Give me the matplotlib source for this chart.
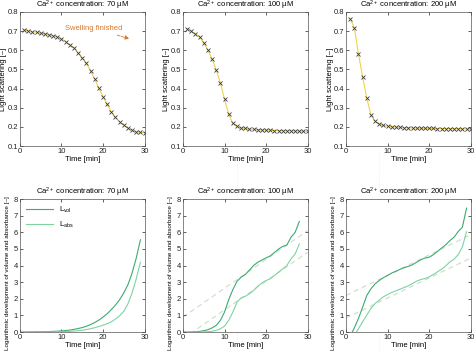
import numpy as np
import matplotlib.pyplot as plt
from matplotlib.lines import Line2D

plt.rcParams['font.family'] = ['Liberation Sans', 'DejaVu Sans']
plt.rcParams['font.size'] = 6
plt.rcParams['mathtext.fontset'] = 'custom'
plt.rcParams['mathtext.rm'] = 'Liberation Sans'
plt.rcParams['mathtext.it'] = 'Liberation Sans'

# light scattering, t = 1..30 min
t_ls = np.arange(1, 31)
ls_70 = [0.706, 0.701, 0.697, 0.694, 0.689, 0.685, 0.682, 0.676, 0.671, 0.660,
         0.645, 0.628, 0.612, 0.587, 0.561, 0.532, 0.492, 0.450, 0.401, 0.358,
         0.317, 0.279, 0.249, 0.225, 0.209, 0.194, 0.182, 0.175, 0.171, 0.170]
ls_100 = [0.713, 0.701, 0.685, 0.668, 0.640, 0.601, 0.554, 0.497, 0.431, 0.345,
          0.265, 0.218, 0.202, 0.195, 0.192, 0.188, 0.187, 0.185, 0.184, 0.183,
          0.182, 0.181, 0.180, 0.180, 0.179, 0.179, 0.178, 0.178, 0.177, 0.177]
ls_200 = [0.765, 0.718, 0.579, 0.462, 0.349, 0.262, 0.229, 0.215, 0.208, 0.204,
          0.201, 0.199, 0.197, 0.196, 0.195, 0.194, 0.194, 0.193, 0.193, 0.192,
          0.192, 0.191, 0.191, 0.191, 0.190, 0.190, 0.190, 0.190, 0.189, 0.189]

# logarithmic development, 70 uM, t = 0..29
t_70 = list(range(0, 30))
lvol_70 = [0, 0, 0.01, 0.01, 0.02, 0.02, 0.03, 0.03, 0.04, 0.05, 0.07, 0.09, 0.12,
           0.16, 0.21, 0.27, 0.35, 0.45, 0.57, 0.72, 0.90, 1.10, 1.35, 1.62, 1.95,
           2.35, 2.85, 3.55, 4.45, 5.55]
labs_70 = [0, 0, 0, 0, 0, 0.01, 0.01, 0.01, 0.01, 0.02, 0.02, 0.03, 0.04, 0.06,
           0.08, 0.11, 0.15, 0.20, 0.26, 0.33, 0.41, 0.50, 0.62, 0.78, 0.98, 1.25,
           1.70, 2.35, 3.20, 4.20]

# 100 uM, t = 0..28
t_100 = list(range(0, 29))
lvol_100 = [0, 0, 0.01, 0.02, 0.04, 0.08, 0.14, 0.25, 0.40, 0.70, 1.20, 1.94, 2.55,
            3.05, 3.30, 3.46, 3.73, 4.00, 4.20, 4.33, 4.46, 4.58, 4.78, 4.99, 5.15,
            5.23, 5.70, 6.00, 6.65]
labs_100 = [0, 0, 0, 0, 0, 0.01, 0.02, 0.05, 0.10, 0.20, 0.35, 0.70, 1.20, 1.80,
            2.05, 2.15, 2.30, 2.50, 2.75, 2.95, 3.10, 3.20, 3.40, 3.60, 3.80, 4.00,
            4.40, 4.70, 5.30]

# 200 uM
t_vol200 = [1.5, 2, 3, 4, 5, 6, 7, 8, 9, 10, 11, 12, 13, 14, 15, 16, 17, 18, 19,
            20, 21, 22, 23, 24, 25, 26, 27, 28, 29]
lvol_200 = [0, 0.25, 0.82, 1.50, 2.20, 2.60, 2.90, 3.10, 3.27, 3.40, 3.55, 3.65,
            3.77, 3.87, 3.95, 4.05, 4.20, 4.35, 4.45, 4.50, 4.65, 4.85, 5.05, 5.25,
            5.50, 5.70, 6.05, 6.30, 7.45]
t_abs200 = [2.5, 3, 4, 5, 6, 7, 8, 9, 10, 11, 12, 13, 14, 15, 16, 17, 18, 19, 20,
            21, 22, 23, 24, 25, 26, 27, 28, 29]
labs_200 = [0, 0.20, 0.62, 1.02, 1.42, 1.72, 1.92, 2.12, 2.26, 2.38, 2.48, 2.58,
            2.68, 2.78, 2.92, 3.06, 3.16, 3.22, 3.32, 3.46, 3.62, 3.78, 3.98, 4.22,
            4.38, 4.66, 5.12, 6.03]

# dashed fit lines (value at t=0 and t=30)
fit_100 = [(0.9, 6.1), (-0.4, 4.8)]
fit_200 = [(2.2, 5.85), (0.85, 4.45)]

titles = ['Ca$^{2+}$ concentration: 70 µM', 'Ca$^{2+}$ concentration: 100 µM',
          'Ca$^{2+}$ concentration: 200 µM']

fig = plt.figure(figsize=(4.74, 3.51), dpi=100)
lefts = [0.042, 0.386, 0.730]
w = 0.263
top_axes = [fig.add_axes([l, 0.584, w, 0.382]) for l in lefts]
bot_axes = [fig.add_axes([l, 0.054, w, 0.379]) for l in lefts]

yellow = '#f2d24a'
c_vol = '#3daa72'
c_abs = '#7fd3a2'
c_fit = '#cfe0cf'


def style(ax):
    ax.tick_params(direction='in', top=True, right=True, length=2.5, width=0.5,
                   labelsize=5.5, pad=1.5, colors='#222222')
    for s in ax.spines.values():
        s.set_linewidth(0.5)
        s.set_color('#555555')
    ax.set_xlim(0, 30)
    ax.set_xticks([0, 10, 20, 30])
    ax.set_xlabel('Time [min]', fontsize=5.5, labelpad=0.5)


for ax, vals, title in zip(top_axes, [ls_70, ls_100, ls_200], titles):
    ax.plot(t_ls, vals, color=yellow, lw=0.8)
    ax.plot(t_ls, vals, 'x', color='#3a3a3a', ms=2.2, mew=0.6)
    ax.set_ylim(0.1, 0.8)
    ax.set_yticks(np.arange(0.1, 0.81, 0.1))
    ax.set_ylabel('Light scattering [–]', fontsize=5.5)
    ax.yaxis.set_label_coords(-0.1, 0.5)
    ax.set_title(title, fontsize=5.5, pad=3)
    style(ax)

top_axes[0].annotate('Swelling finished', xy=(26.3, 0.66), xytext=(10.9, 0.716),
                     color='#d9782b', fontsize=5.5, va='center', ha='left',
                     arrowprops=dict(arrowstyle='-|>', color='#d9782b', lw=0.6,
                                     ls='--', shrinkA=2, shrinkB=0,
                                     mutation_scale=6))

bot_data = [(t_70, lvol_70, t_70, labs_70), (t_100, lvol_100, t_100, labs_100),
            (t_vol200, lvol_200, t_abs200, labs_200)]
for ax, (tv, lv, ta, la), title in zip(bot_axes, bot_data, titles):
    ax.plot(tv, lv, color=c_vol, lw=0.8, label='$L_{vol}$')
    ax.plot(ta, la, color=c_abs, lw=0.8, label='$L_{abs}$')
    ax.set_ylim(0, 8)
    ax.set_yticks(range(0, 9))
    ax.set_ylabel('Logarithmic development of volume and absorbance [–]',
                  fontsize=4.5)
    ax.yaxis.set_label_coords(-0.08, 0.44)
    ax.set_title(title, fontsize=5.5, pad=3)
    style(ax)

for ax, fits in zip(bot_axes[1:], [fit_100, fit_200]):
    for y0, y1 in fits:
        ax.plot([0, 30], [y0, y1], color=c_fit, lw=0.9, ls=(0, (4, 3)), zorder=1)

bot_axes[0].legend(loc='upper left', frameon=False, fontsize=5.5, handlelength=3.5,
                   borderaxespad=0.4, labelspacing=0.6)

# faint vertical guide lines across the figure
for xpx in [236.5, 379]:
    fig.add_artist(Line2D([xpx / 474, xpx / 474], [0, 1], color='#ececec',
                          lw=0.6, ls=':', zorder=0))

fig.savefig('out.png', dpi=100)
